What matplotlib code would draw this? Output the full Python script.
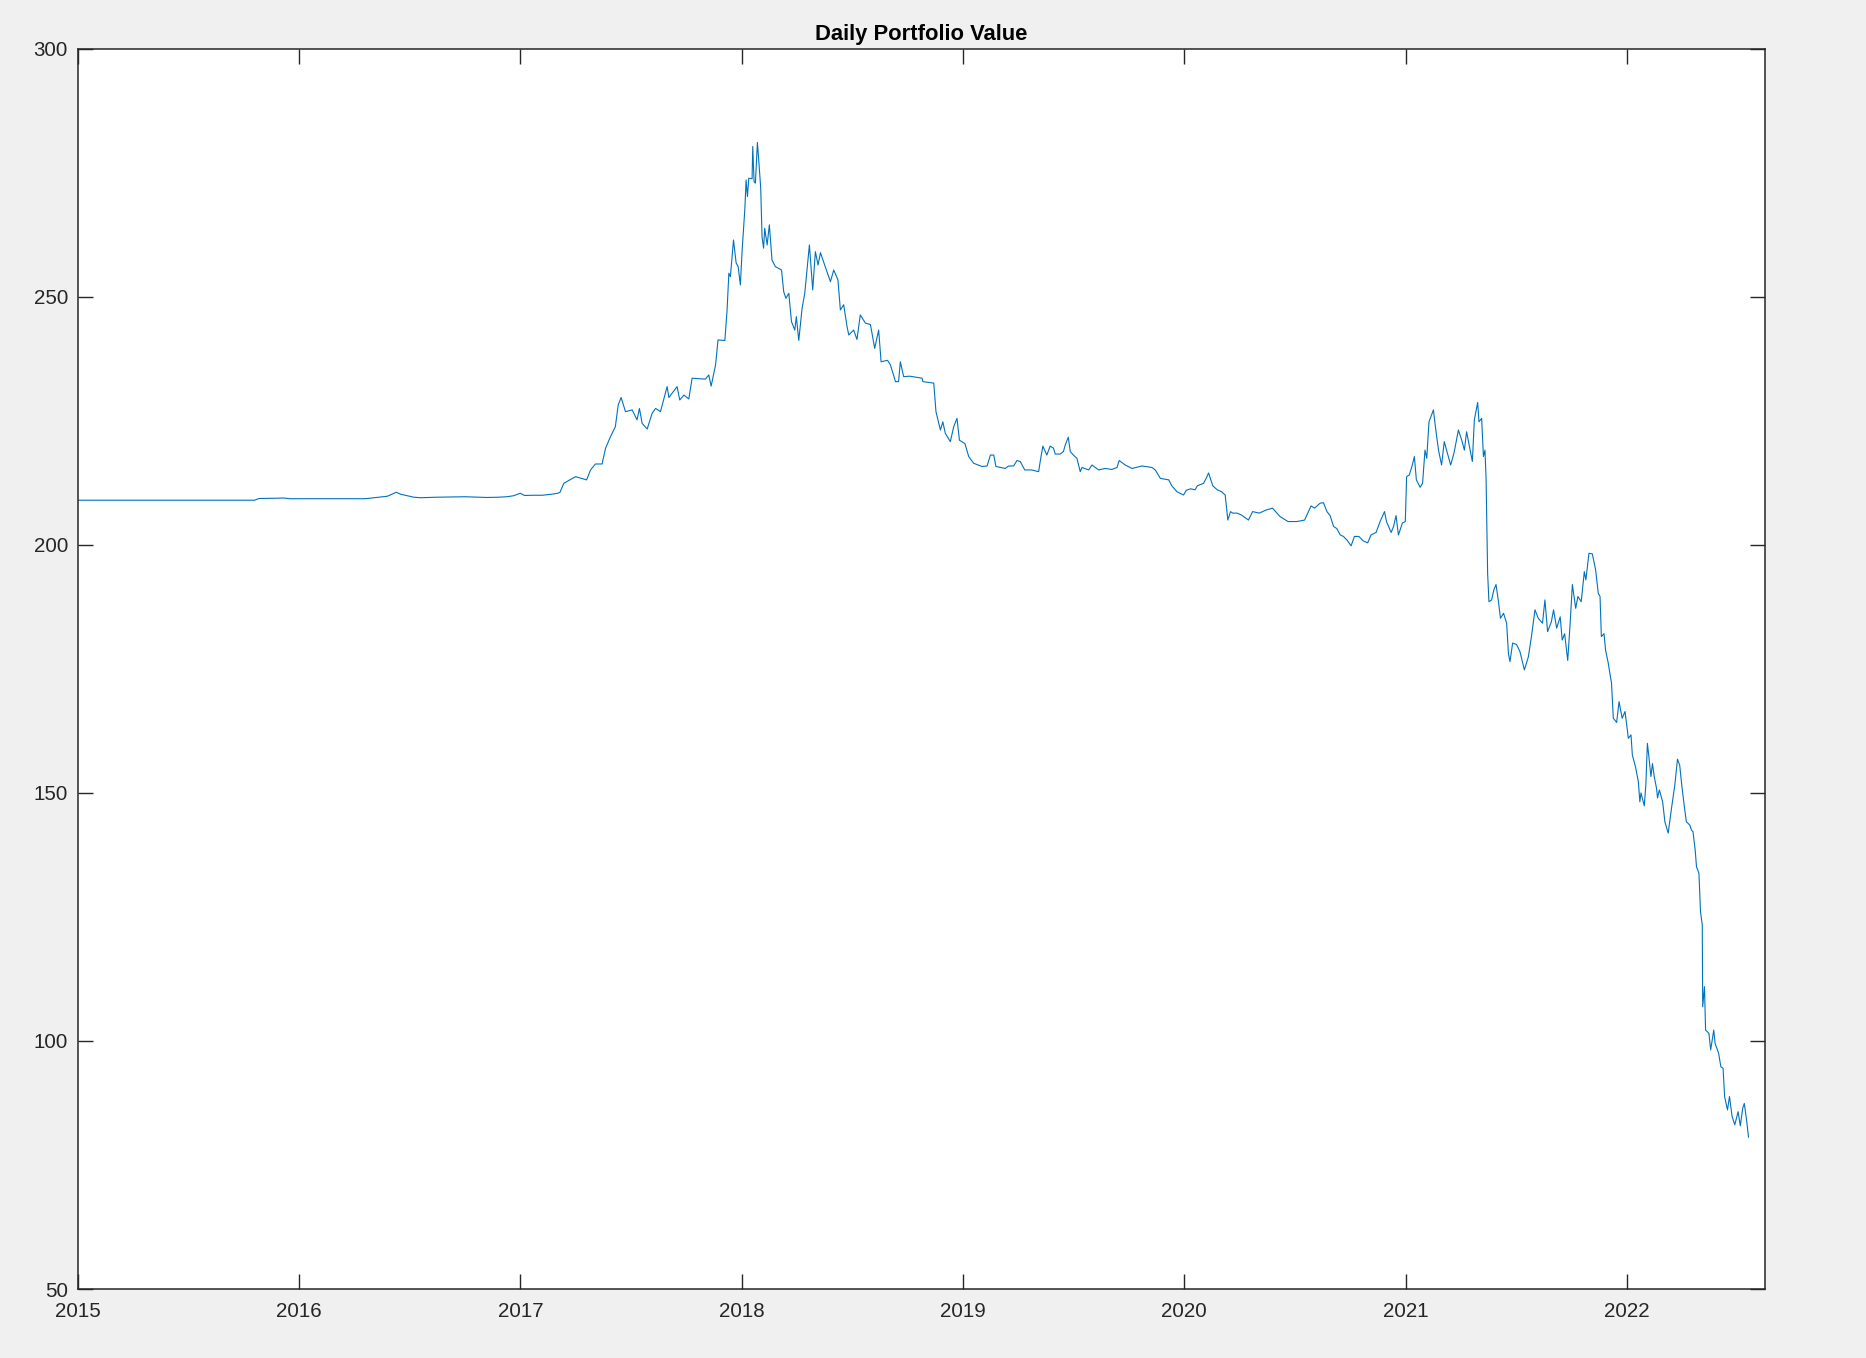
import numpy as np
import pandas as pd
import matplotlib
matplotlib.use("Agg")
import matplotlib.pyplot as plt
import matplotlib.dates as mdates

# portfolio value, time as decimal year
years = [
    2015.00, 2015.80, 2015.82, 2015.90, 2015.93, 2015.96, 2016.30, 2016.36, 2016.40, 2016.44,
    2016.46, 2016.49, 2016.52, 2016.55, 2016.62, 2016.75, 2016.85, 2016.90, 2016.94, 2016.97,
    2017.00, 2017.02, 2017.06, 2017.10, 2017.14, 2017.17, 2017.18,
    2017.197, 2017.25, 2017.30, 2017.318, 2017.34, 2017.37, 2017.386, 2017.408, 2017.43, 2017.443,
    2017.456, 2017.476, 2017.506, 2017.528, 2017.539, 2017.551, 2017.574, 2017.596, 2017.612, 2017.634,
    2017.664, 2017.672, 2017.709, 2017.721, 2017.74, 2017.762, 2017.777, 2017.837, 2017.852, 2017.863,
    2017.883, 2017.894, 2017.925, 2017.935, 2017.943, 2017.95, 2017.964, 2017.976, 2017.985, 2017.995,
    2018.003, 2018.015, 2018.021, 2018.027, 2018.033, 2018.048, 2018.051, 2018.057, 2018.063, 2018.072,
    2018.078, 2018.087, 2018.093, 2018.10, 2018.105, 2018.116, 2018.126, 2018.138, 2018.153, 2018.181,
    2018.191, 2018.201, 2018.214, 2018.226, 2018.241, 2018.248, 2018.259, 2018.274, 2018.286, 2018.296,
    2018.307, 2018.322, 2018.334, 2018.346, 2018.357, 2018.376, 2018.402, 2018.417, 2018.436, 2018.447,
    2018.462, 2018.477, 2018.485, 2018.507, 2018.522, 2018.537, 2018.56, 2018.583, 2018.602, 2018.62,
    2018.631, 2018.66, 2018.673, 2018.696, 2018.71, 2018.718, 2018.733, 2018.76, 2018.816, 2018.82,
    2018.869, 2018.879, 2018.899, 2018.91, 2018.921, 2018.944, 2018.959, 2018.974, 2018.985, 2018.996,
    2019.01, 2019.027, 2019.049, 2019.087, 2019.11, 2019.125, 2019.14, 2019.15, 2019.192, 2019.207,
    2019.23, 2019.245, 2019.26, 2019.28, 2019.312, 2019.343, 2019.35, 2019.362, 2019.38, 2019.395,
    2019.41, 2019.418, 2019.44, 2019.455, 2019.463, 2019.477, 2019.486, 2019.50, 2019.516, 2019.531,
    2019.539, 2019.569, 2019.584, 2019.614, 2019.644, 2019.674, 2019.697, 2019.707, 2019.734, 2019.765,
    2019.81, 2019.855, 2019.87, 2019.893, 2019.931, 2019.945, 2019.968, 2019.998, 2020.01, 2020.03,
    2020.05, 2020.06, 2020.088, 2020.10, 2020.111, 2020.13, 2020.15, 2020.17, 2020.186, 2020.198,
    2020.21, 2020.22, 2020.24, 2020.26, 2020.291, 2020.31, 2020.34, 2020.37, 2020.40, 2020.434,
    2020.47, 2020.51, 2020.545, 2020.574, 2020.59, 2020.615, 2020.63, 2020.646, 2020.66, 2020.676,
    2020.69, 2020.706, 2020.72, 2020.736, 2020.755, 2020.77, 2020.79, 2020.81, 2020.83, 2020.845,
    2020.868, 2020.886, 2020.906, 2020.915, 2020.936, 2020.947, 2020.958, 2020.969, 2020.987, 2021.0,
    2021.006, 2021.018, 2021.03, 2021.041, 2021.05, 2021.067, 2021.078, 2021.089, 2021.097, 2021.107,
    2021.127, 2021.137, 2021.15, 2021.164, 2021.176, 2021.19, 2021.205, 2021.22, 2021.24, 2021.255,
    2021.267, 2021.277, 2021.29, 2021.303, 2021.312, 2021.327, 2021.333, 2021.345, 2021.353, 2021.36,
    2021.365, 2021.372, 2021.378, 2021.39, 2021.40, 2021.41, 2021.42, 2021.43, 2021.444, 2021.458,
    2021.466, 2021.473, 2021.485, 2021.503, 2021.518, 2021.538, 2021.556, 2021.571, 2021.586, 2021.601,
    2021.62, 2021.631, 2021.643, 2021.66, 2021.67, 2021.684, 2021.70, 2021.709, 2021.72, 2021.734,
    2021.745, 2021.755, 2021.77, 2021.78, 2021.795, 2021.809, 2021.816, 2021.83, 2021.845, 2021.86,
    2021.872, 2021.88, 2021.886, 2021.898, 2021.905, 2021.916, 2021.932, 2021.94, 2021.955, 2021.966,
    2021.98, 2021.993, 2022.008, 2022.02, 2022.026, 2022.04, 2022.053, 2022.06, 2022.065, 2022.08,
    2022.087, 2022.094, 2022.10, 2022.11, 2022.117, 2022.125, 2022.135, 2022.14, 2022.148, 2022.163,
    2022.173, 2022.188, 2022.203, 2022.218, 2022.23, 2022.24, 2022.25, 2022.26, 2022.27, 2022.286,
    2022.293, 2022.30, 2022.31, 2022.316, 2022.327, 2022.334, 2022.342, 2022.344, 2022.352, 2022.357,
    2022.372, 2022.38, 2022.394, 2022.40, 2022.416, 2022.426, 2022.436, 2022.443, 2022.456, 2022.465,
    2022.477, 2022.489, 2022.504, 2022.514, 2022.525, 2022.532, 2022.543, 2022.551,
]
values = [
    209.0, 209.0, 209.35, 209.4, 209.45, 209.3, 209.3, 209.6, 209.8, 210.6,
    210.2, 209.9, 209.6, 209.5, 209.6, 209.7, 209.55, 209.6, 209.7, 209.9,
    210.4, 209.95, 210.0, 210.0, 210.2, 210.4, 210.6,
    212.4, 213.75, 213.1, 215.1, 216.3, 216.3, 219.5, 221.8, 223.8, 228.2,
    229.7, 226.85, 227.2, 225.2, 227.5, 224.5, 223.35, 226.5, 227.5, 226.85,
    231.9, 229.7, 231.9, 229.2, 230.2, 229.4, 233.6, 233.4, 234.25, 232.0,
    236.3, 241.3, 241.2, 247.35, 254.75, 254.05, 261.45, 256.8, 256.1, 252.4,
    259.4, 267.5, 273.55, 270.2, 273.9, 273.8, 280.3, 273.2, 272.9, 281.1,
    277.6, 271.9, 262.1, 259.8, 263.8, 260.45, 264.5, 257.4, 256.1, 255.4,
    251.0, 249.7, 250.7, 245.0, 243.3, 246.0, 241.2, 247.7, 250.7, 255.4,
    260.45, 251.4, 259.1, 256.4, 258.9, 256.4, 253.05, 255.4, 253.4, 247.35,
    248.4, 244.0, 242.3, 243.3, 241.4, 246.35, 244.7, 244.4, 239.6, 243.3,
    236.9, 237.2, 236.3, 232.9, 232.9, 236.9, 233.9, 234.0, 233.6, 232.9,
    232.6, 226.85, 223.15, 224.8, 222.5, 220.8, 223.8, 225.5, 221.1, 220.8,
    220.4, 217.8, 216.45, 215.8, 215.9, 218.1, 218.1, 215.8, 215.4, 215.9,
    215.9, 217.0, 216.8, 215.1, 215.1, 214.75, 216.8, 219.9, 218.1, 219.9,
    219.5, 218.3, 218.3, 218.8, 220.1, 221.7, 218.8, 218.1, 217.45, 214.75,
    215.6, 215.1, 216.1, 215.1, 215.4, 215.2, 215.6, 217.0, 216.1, 215.4,
    215.9, 215.6, 215.1, 213.4, 213.1, 211.9, 210.7, 210.05, 211.0, 211.3,
    211.1, 211.9, 212.4, 213.4, 214.5, 211.9, 211.1, 210.7, 210.05, 205.0,
    206.7, 206.4, 206.4, 206.0, 205.0, 206.7, 206.4, 207.0, 207.4, 205.7,
    204.7, 204.7, 205.0, 207.85, 207.4, 208.4, 208.5, 206.7, 205.9, 203.7,
    203.3, 202.0, 201.7, 201.0, 199.8, 201.7, 201.7, 200.8, 200.4, 202.0,
    202.5, 204.7, 206.7, 204.7, 202.5, 203.7, 205.9, 202.0, 204.4, 204.7,
    213.75, 214.1, 215.8, 217.8, 213.1, 211.6, 212.4, 219.1, 217.45, 224.8,
    227.2, 223.45, 219.1, 216.1, 220.8, 218.5, 216.1, 218.5, 223.15, 221.1,
    219.1, 222.8, 219.8, 216.8, 225.2, 228.7, 224.8, 225.5, 217.8, 219.1,
    213.4, 194.3, 188.55, 188.9, 190.9, 192.0, 188.9, 185.2, 186.2, 184.2,
    178.1, 176.45, 180.2, 179.9, 178.5, 174.8, 177.4, 181.8, 186.9, 185.2,
    184.2, 188.9, 182.5, 184.5, 186.9, 183.2, 185.5, 180.8, 182.1, 176.7,
    184.2, 192.0, 187.2, 189.6, 188.55, 194.6, 192.95, 198.3, 198.2, 195.0,
    190.25, 189.6, 181.5, 182.1, 178.8, 176.45, 172.1, 165.05, 164.2, 168.4,
    165.05, 166.4, 161.0, 161.7, 157.65, 155.3, 152.3, 148.2, 150.0, 147.4,
    151.6, 160.0, 157.65, 153.3, 155.9, 153.3, 151.0, 149.0, 150.6, 148.2,
    144.2, 141.9, 146.9, 151.6, 156.8, 155.6, 151.3, 147.6, 144.2, 143.5,
    142.5, 142.2, 138.5, 135.1, 133.8, 126.1, 123.4, 106.9, 110.95, 102.2,
    101.55, 98.2, 102.2, 99.5, 97.5, 94.8, 94.5, 88.8, 86.1, 88.8,
    84.75, 83.1, 85.75, 82.9, 86.5, 87.4, 83.8, 80.6,
]

year_ticks = list(range(2015, 2023))
value_ticks = [50, 100, 150, 200, 250, 300]

yrs = np.array(years)
dates = pd.Timestamp("2015-01-01") + pd.to_timedelta((yrs - 2015) * 365.25, unit="D")

dark = "#262626"
plt.rcParams["font.family"] = ["Liberation Sans", "DejaVu Sans"]

fig = plt.figure(figsize=(18.66, 13.58), dpi=100, facecolor="#f0f0f0")
ax = fig.add_axes([0.0416, 0.0508, 0.9042, 0.9133])
ax.set_facecolor("white")

ax.plot(dates, values, color="#0072BD", linewidth=0.8)

ax.set_xlim(pd.Timestamp("2015-01-01"), pd.Timestamp("2022-08-17"))
ax.set_ylim(50, 300)
ax.set_xticks([pd.Timestamp(f"{y}-01-01") for y in year_ticks])
ax.xaxis.set_major_formatter(mdates.DateFormatter("%Y"))
ax.set_yticks(value_ticks)

ax.tick_params(direction="in", length=11, width=1.0, colors=dark, labelsize=14.8,
               top=True, right=True)
ax.tick_params(axis="x", pad=9)
ax.tick_params(axis="y", pad=7)
for s in ax.spines.values():
    s.set_color(dark)
    s.set_linewidth(1.1)

ax.set_title("Daily Portfolio Value", fontsize=15.8, fontweight="bold", color="black", pad=6)

fig.savefig("out.png", dpi=100, facecolor=fig.get_facecolor())
